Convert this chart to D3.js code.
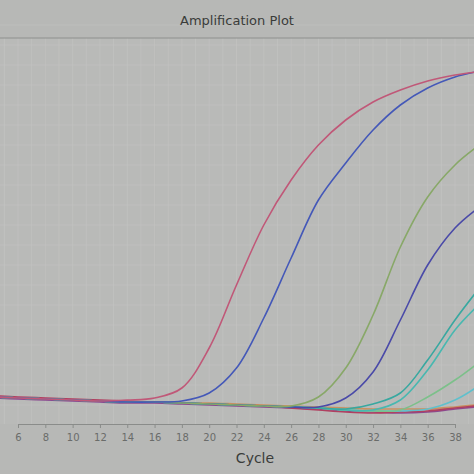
<!DOCTYPE html><html><head><script src="https://cdn.jsdelivr.net/npm/d3@7"></script>
<style>body{margin:0;background:#b7b8b6}</style></head><body><svg id="c" width="474" height="474"></svg>
<script>
const cycles=[4.5,6,8,10,12,14,16,18,20,22,24,26,28,30,32,34,36,38,39.5];
const xTicks=[6,8,10,12,14,16,18,20,22,24,26,28,30,32,34,36,38];
const red=[8,7,6,5,4,5,7,17,57,120,180,225,260,285,303,315,324,330,333];
const blue=[8,7,6,5,4,3,3,4,12,37,87,147,205,242,275,300,317,328,333];
const olive=[8,7,6,5,4,3,3,2,1,0,-1,-1,8,37,90,158,208,240,257];
const violet=[8,7,6,5,4,3,3,2,1,0,-1,-2,-2,7,33,85,140,177,195];
const teal1=[8,7,6,5,4,3,3,2,1,0,-1,-2,-3,-4,1,12,45,85,112];
const teal2=[8,7,6,5,4,3,3,2,1,0,-1,-2,-3,-5,-5,5,35,75,97];
const lgreen=[8,7,6,5,4,3,3,2,1,0,-1,-2,-3,-5,-6,-5,8,25,40];
const cyan=[8,7,6,5,4,3,3,2,1,0,-1,-2,-3,-5,-6,-6,-4,5,17];
const flatRed=[9,8,7,6,5,4,3,2,1,0,-1,-3,-5,-7,-8,-7,-6,-3,-1];
const flatPurple=[7,6,5,4,3,2,2,1,0,-1,-2,-3,-4,-6,-7,-8,-7,-4,-2];
const flatOrange=[8,7,6,5,4,3,3,2,2,1,0,-1,-2,-3,-4,-4,-4,-2,0];
const series=[
 [flatOrange,"#c89060"],[flatPurple,"#8a4a90"],[flatRed,"#b04060"],
 [cyan,"#60c0cc"],[lgreen,"#7cc08a"],[teal2,"#48b8b0"],[teal1,"#38a8a0"],
 [violet,"#4a4aa8"],[olive,"#88a868"],[blue,"#4458b8"],[red,"#c05878"]];
const svg=d3.select("#c");
const x=d3.scaleLinear().domain([6,38]).range([18,455]);
const y=d3.scaleLinear().domain([0,370]).range([405,35]);
svg.append("rect").attr("x",0).attr("y",38).attr("width",474).attr("height",386).attr("fill","#b9bab8");
const g=svg.append("g");
for(let c=5;c<=39.5;c+=1) g.append("line").attr("x1",x(c)).attr("x2",x(c)).attr("y1",38).attr("y2",424).attr("stroke","#c4c5c3").attr("stroke-width",0.6);
for(let v=0;v<=380;v+=20) g.append("line").attr("x1",0).attr("x2",474).attr("y1",y(v)).attr("y2",y(v)).attr("stroke","#c4c5c3").attr("stroke-width",0.6);
svg.append("line").attr("x1",0).attr("x2",474).attr("y1",38).attr("y2",38).attr("stroke","#8e908e");
const ax=svg.append("g").attr("transform","translate(0,424)").call(d3.axisBottom(x).tickValues(xTicks).tickSize(4).tickPadding(6));
ax.select(".domain").attr("stroke","#8a8c8a");
ax.selectAll("line").attr("stroke","#8a8c8a");
ax.selectAll("text").attr("fill","#6a6c6a").attr("font-size",10).attr("font-family","DejaVu Sans");
const line=d3.line().x((d,i)=>x(cycles[i])).y(d=>y(d)).curve(d3.curveCatmullRom.alpha(0.5));
series.forEach(([s,c])=>svg.append("path").attr("d",line(s)).attr("fill","none").attr("stroke",c).attr("stroke-width",1.6));
svg.append("text").attr("x",237).attr("y",25).attr("text-anchor","middle").attr("font-family","DejaVu Sans").attr("font-size",13).attr("fill","#3a3c3a").text("Amplification Plot");
svg.append("text").attr("x",255).attr("y",463).attr("text-anchor","middle").attr("font-family","DejaVu Sans").attr("font-size",14).attr("fill","#3a3c3a").text("Cycle");
</script></body></html>
